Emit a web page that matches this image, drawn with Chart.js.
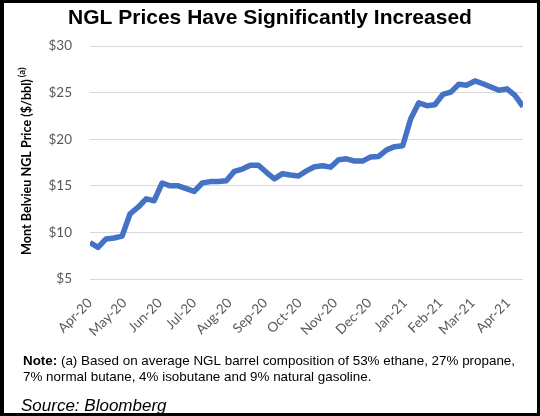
<!DOCTYPE html>
<html>
<head>
<meta charset="utf-8">
<script src="https://cdn.jsdelivr.net/npm/chart.js@4.4.1/dist/chart.umd.min.js"></script>
<style>
  html, body { margin: 0; padding: 0; background: #fff; }
  canvas { display: block; }
</style>
</head>
<body>
<canvas id="chart" width="540" height="416"></canvas>
<script>
// weekly Mont Belvieu NGL barrel price, first week = 2020-04-01
const startDate = '2020-04-01';
const prices = [
  8.9, 8.4, 9.3, 9.4, 9.6, 12.0, 12.7, 13.6, 13.4, 15.3,
  15.0, 15.0, 14.7, 14.4, 15.3, 15.45, 15.45, 15.55, 16.55, 16.8,
  17.2, 17.2, 16.45, 15.75, 16.3, 16.15, 16.05, 16.6, 17.05, 17.15,
  17.0, 17.8, 17.9, 17.65, 17.65, 18.1, 18.15, 18.85, 19.2, 19.3,
  22.2, 23.9, 23.6, 23.7, 24.8, 25.05, 25.9, 25.8, 26.25, 25.95,
  25.6, 25.25, 25.4, 24.7, 23.5
];
const monthLabels = ['Apr-20', 'May-20', 'Jun-20', 'Jul-20', 'Aug-20', 'Sep-20', 'Oct-20',
  'Nov-20', 'Dec-20', 'Jan-21', 'Feb-21', 'Mar-21', 'Apr-21'];
const monthStarts = ['2020-04-01', '2020-05-01', '2020-06-01', '2020-07-01', '2020-08-01',
  '2020-09-01', '2020-10-01', '2020-11-01', '2020-12-01', '2021-01-01', '2021-02-01',
  '2021-03-01', '2021-04-01'];
const yTicks = [5, 10, 15, 20, 25, 30];

const chartTitle = 'NGL Prices Have Significantly Increased';
const yTitle = 'Mont Belvieu NGL Price ($/bbl)';
const yTitleNote = '(a)';
const noteLines = [
  ['Note:', ' (a) Based on average NGL barrel composition of 53% ethane, 27% propane,'],
  ['', '7% normal butane, 4% isobutane and 9% natural gasoline.']
];
const sourceText = 'Source: Bloomberg';

const DAY = 24 * 3600 * 1000;
const dayOffset = (d) => Math.round((Date.parse(d) - Date.parse(startDate)) / DAY);
const points = prices.map((p, i) => ({ x: i * 7, y: p }));
const tickFont = { family: 'Lato', size: 13.5 };

const decorations = {
  id: 'decorations',
  beforeDraw(chart) {
    const ctx = chart.ctx;
    ctx.save();
    ctx.fillStyle = '#fff';
    ctx.fillRect(0, 0, chart.width, chart.height);
    ctx.restore();
  },
  afterDraw(chart) {
    const ctx = chart.ctx;
    ctx.save();

    // title
    ctx.fillStyle = '#000';
    ctx.font = 'bold 21px "Liberation Sans", Arial, sans-serif';
    ctx.textAlign = 'center';
    ctx.textBaseline = 'alphabetic';
    ctx.fillText(chartTitle, 270, 24);

    // y axis title with superscript
    ctx.save();
    ctx.translate(27, 255);
    ctx.rotate(-Math.PI / 2);
    ctx.font = 'bold 12.6px Lato, sans-serif';
    ctx.textAlign = 'left';
    ctx.textBaseline = 'middle';
    ctx.fillText(yTitle, 0, 0);
    const w = ctx.measureText(yTitle).width;
    ctx.font = 'bold 9.5px Lato, sans-serif';
    ctx.fillText(yTitleNote, w + 2, -5);
    ctx.restore();

    // notes
    ctx.textAlign = 'left';
    ctx.textBaseline = 'alphabetic';
    noteLines.forEach((parts, i) => {
      const y = 365 + i * 16;
      let x = 23;
      ctx.font = 'bold 13.4px "Liberation Sans", Arial, sans-serif';
      ctx.fillText(parts[0], x, y);
      x += ctx.measureText(parts[0]).width;
      ctx.font = '13.4px "Liberation Sans", Arial, sans-serif';
      ctx.fillText(parts[1], x, y);
    });
    ctx.font = 'italic 17px "Liberation Sans", Arial, sans-serif';
    ctx.fillText(sourceText, 21, 411);

    // frame
    ctx.fillStyle = '#000';
    ctx.fillRect(0, 0, chart.width, 3);
    ctx.fillRect(0, chart.height - 3, chart.width, 3);
    ctx.fillRect(0, 0, 4, chart.height);
    ctx.fillRect(chart.width - 3, 0, 3, chart.height);
    ctx.restore();
  }
};

new Chart(document.getElementById('chart'), {
  type: 'line',
  data: {
    datasets: [{
      data: points,
      borderColor: '#4472C4',
      borderWidth: 5.5,
      borderJoinStyle: 'round',
      pointRadius: 0,
      tension: 0,
      fill: false
    }]
  },
  options: {
    responsive: false,
    animation: false,
    devicePixelRatio: 1,
    layout: { padding: { top: 46, right: 17, left: 0, bottom: 0 } },
    plugins: {
      legend: { display: false },
      tooltip: { enabled: false }
    },
    scales: {
      x: {
        type: 'linear',
        min: 0,
        max: points[points.length - 1].x,
        afterBuildTicks: (s) => { s.ticks = monthStarts.map(d => ({ value: dayOffset(d) })); },
        afterFit: (s) => { s.height = 137; },
        grid: { display: false },
        border: { display: false },
        ticks: {
          autoSkip: false,
          maxRotation: 45,
          minRotation: 45,
          padding: 8,
          color: '#595959',
          font: tickFont,
          callback: (v, i) => monthLabels[i]
        }
      },
      y: {
        min: 5,
        max: 30,
        afterBuildTicks: (s) => { s.ticks = yTicks.map(v => ({ value: v })); },
        afterFit: (s) => { s.width = 90; },
        grid: { color: '#D9D9D9', lineWidth: 1, drawTicks: false },
        border: { display: false },
        ticks: {
          padding: 18,
          color: '#595959',
          font: tickFont,
          callback: (v) => '$' + v
        }
      }
    }
  },
  plugins: [decorations]
});
</script>
</body>
</html>
